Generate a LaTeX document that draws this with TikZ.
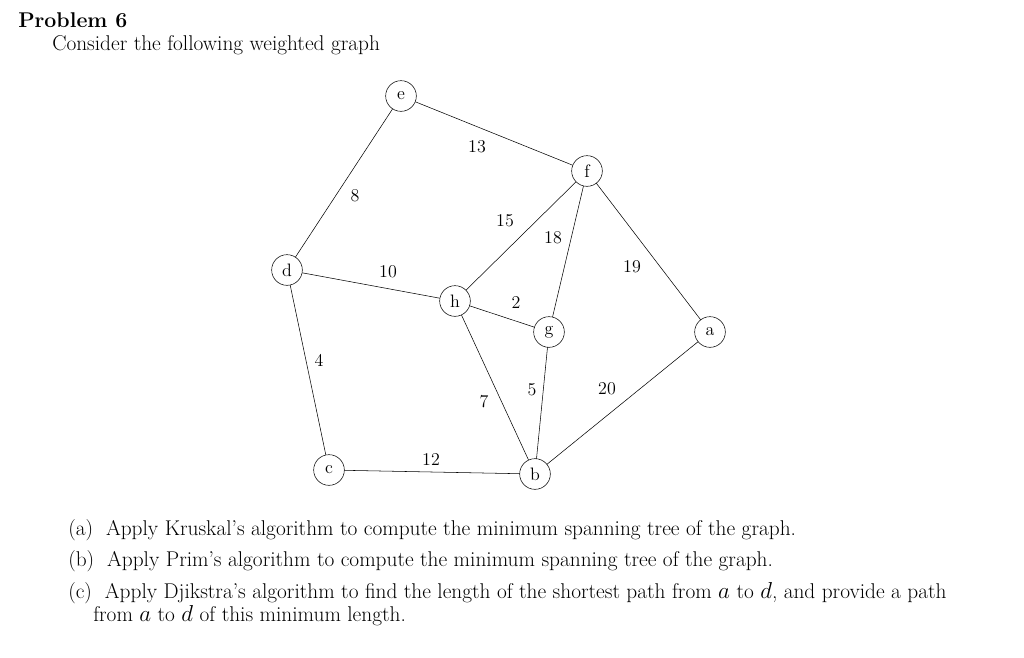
\documentclass[tikz,border=0pt]{standalone}
\begin{document}
\begin{tikzpicture}[x=0.75pt,y=-0.75pt,
 vert/.style={circle,draw,fill=white,minimum size=23pt,inner sep=0pt,font=\fontsize{13.5}{15}\selectfont},
 wt/.style={font=\fontsize{13.5}{15}\selectfont},
 txt/.style={anchor=west,inner sep=0pt,font=\fontsize{16}{19}\selectfont}]
\useasboundingbox (0,0) rectangle (1024,657);
\node[txt,font=\fontsize{16}{19}\selectfont\bfseries] (t1) at (18,20) {Problem 6};
\node[txt] (t2) at (52,45) {Consider the following weighted graph};
\foreach \n/\x/\y in {e/401/96,f/587/171,d/287/270,h/455/301,g/549/332,a/710/332,c/329/470,b/535/474}
  \coordinate (p\n) at (\x,\y);
\draw (pe)--(pf) (pe)--(pd) (pd)--(ph) (pd)--(pc) (pc)--(pb) (ph)--(pf) (ph)--(pg) (ph)--(pb)
 (pf)--(pg) (pf)--(pa) (pg)--(pb) (pa)--(pb);
\foreach \n in {e,f,d,h,g,a,c,b} \node[vert] (\n) at (p\n) {\n};
\foreach \l/\x/\y in {13/477/147,8/355/196,15/505/221,18/553/238,19/632/267,10/388/272,2/516/303,4/319/360,7/484/402,5/532/390,20/607/389,12/431/460}
  \node[wt] (w\l) at (\x,\y) {\l};
\node[txt] (ia) at (68,530) {(a)\ \ Apply Kruskal's algorithm to compute the minimum spanning tree of the graph.};
\node[txt] (ib) at (68,561) {(b)\ \ Apply Prim's algorithm to compute the minimum spanning tree of the graph.};
\node[txt] (ic) at (68,593) {(c)\ \ Apply Djikstra's algorithm to find the length of the shortest path from $a$ to $d$, and provide a path};
\node[txt] (id) at (93,616) {from $a$ to $d$ of this minimum length.};
\end{tikzpicture}
\end{document}
